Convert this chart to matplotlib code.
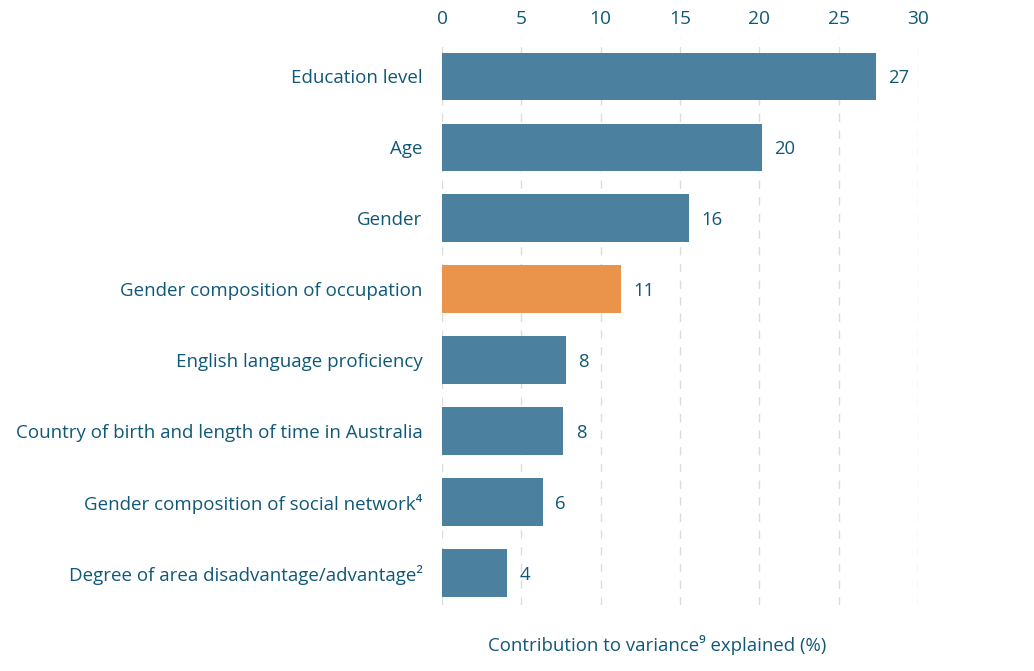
import matplotlib.pyplot as plt

# Data
categories = [
    'Education level',
    'Age',
    'Gender',
    'Gender composition of occupation',
    'English language proficiency',
    'Country of birth and length of time in Australia',
    'Gender composition of social network\u2074',
    'Degree of area disadvantage/advantage\u00b2',
]
values = [27.35, 20.15, 15.55, 11.3, 7.8, 7.65, 6.35, 4.1]
highlight = 'Gender composition of occupation'
ticks = [0, 5, 10, 15, 20, 25, 30]

plt.rcParams['font.family'] = ['Open Sans', 'DejaVu Sans']
text_col = '#105878'
blue = '#4b819f'
orange = '#e9944a'

fig = plt.figure(figsize=(10.34, 6.71), dpi=100)
ax = fig.add_axes([442 / 1034, 1 - 605 / 671, (918 - 442) / 1034, (605 - 38) / 671])

colors = [orange if c == highlight else blue for c in categories]
ypos = list(range(len(categories)))
ax.barh(ypos, values, height=0.67, color=colors, zorder=3)

for y, v in zip(ypos, values):
    ax.annotate(f'{round(v):d}', (v, y), xytext=(9, 0), textcoords='offset points',
                va='center_baseline', ha='left', fontsize=13.3, color=text_col)

ax.set_xlim(0, 30)
ax.set_ylim(7.45, -0.54)
ax.set_xticks(ticks)
ax.set_yticks(ypos)
ax.set_yticklabels(categories, va='center_baseline')
ax.xaxis.tick_top()
ax.tick_params(axis='x', length=0, pad=7, labelsize=13.8, labelcolor=text_col)
ax.tick_params(axis='y', length=0, pad=14, labelsize=13.5, labelcolor=text_col)
for s in ax.spines.values():
    s.set_visible(False)
ax.grid(axis='x', color='#dcdcdc', linestyle=(0, (6, 6)), linewidth=1, zorder=0)

fig.text(657 / 1034, 1 - 645 / 671, 'Contribution to variance\u2079 explained (%)',
         ha='center', va='center', fontsize=13.4, color=text_col)

fig.savefig('out.png', dpi=100)
